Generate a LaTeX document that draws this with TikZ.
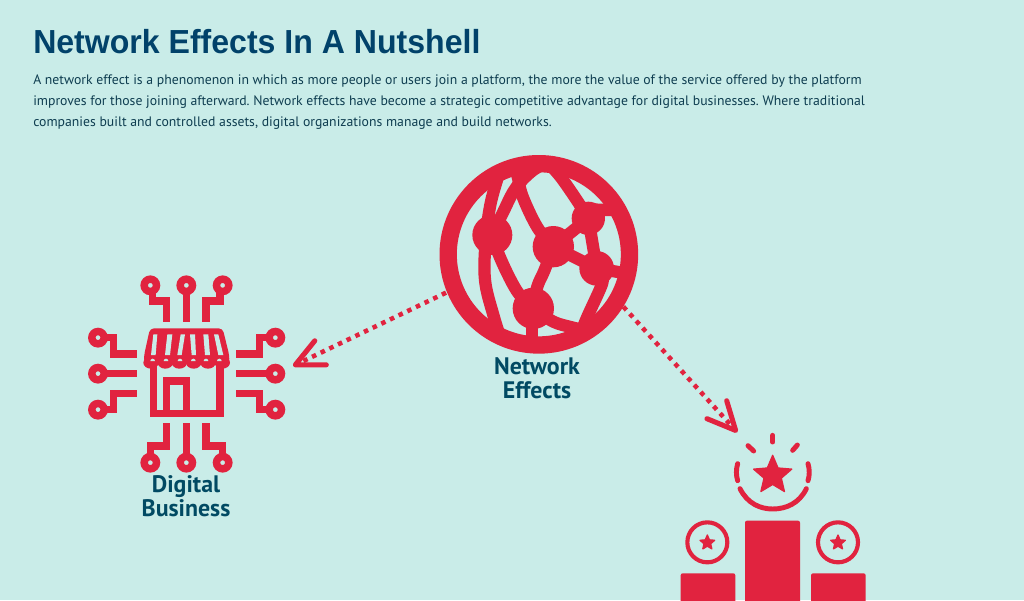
\documentclass[tikz,border=0pt]{standalone}
\usepackage{fontspec}
\setmainfont{PT Sans}
\newfontfamily\titlefont[FakeStretch=0.962]{Liberation Sans}
\usetikzlibrary{arrows.meta,shapes.geometric}
\definecolor{bgc}{HTML}{C9ECE8}
\definecolor{redc}{HTML}{E1233F}
\definecolor{titlec}{HTML}{01426A}
\definecolor{bodyc}{HTML}{0E3D50}
\definecolor{labelc}{HTML}{014A63}
\tikzset{
  titletext/.style={anchor=base west,inner sep=0pt,text=titlec,font=\titlefont\bfseries\fontsize{25}{30}\selectfont},
  bodytext/.style={anchor=base west,inner sep=0pt,text=bodyc,font=\frenchspacing\fontsize{10.3}{12}\selectfont},
  iconlabel/.style={align=center,inner sep=0pt,text=labelc,font=\bfseries\fontsize{17.9}{18}\selectfont},
  dotarrow/.style={draw=redc,line width=3.4pt,dash pattern=on 3.4pt off 3.8pt,
    -{Straight Barb[length=21pt,width=20pt,line width=3.8pt,round=false]}},
  cut/.style={fill=bgc,draw=none},
  trace/.style={draw=redc,line width=5.4pt},
  ringdot/.style={draw=redc,line width=5.6pt},
  dashring/.style={draw=redc,line width=3.7pt,line cap=round},
  bar/.style={fill=redc,rounded corners=1.5pt},
  prize/.style={star,star points=5,star point ratio=2.2,fill=redc,draw=redc,line join=round,line width=1pt,inner sep=0pt},
  netline/.style={draw=redc,line width=9.2pt},
}
\begin{document}
\begin{tikzpicture}[x=.75pt,y=-.75pt]
\useasboundingbox (0,0) rectangle (1024,600);
\fill[bgc] (0,0) rectangle (1024,600);
\node[titletext] (title) at (33,53) {Network Effects In A Nutshell};
\node[bodytext] (l1) at (33,84.5) {A network effect is a phenomenon in which as more people or users join a platform, the more the value of the service offered by the platform};
\node[bodytext] (l2) at (33,105.5) {improves for those joining afterward. Network effects have become a strategic competitive advantage for digital businesses. Where traditional};
\node[bodytext] (l3) at (33,126.5) {companies built and controlled assets, digital organizations manage and build networks.};

% ---- globe
\begin{scope}[shift={(420,140)},x=.25pt,y=-.25pt]
\begin{scope}
\clip (356.5,343) circle[radius=290];
\draw[netline] plot[smooth,tension=.6] coordinates {(245,80) (228,130) (210,200) (197,300) (195,420) (220,525) (250,620)};
\draw[netline] plot[smooth,tension=.6] coordinates {(380,70) (340,90) (290,140) (255,205) (222,285) (237,345) (290,452) (340,505)};
\draw[netline] plot[smooth,tension=.6] coordinates {(280,70) (293,110) (308,170) (352,262) (400,320)};
\draw[netline] plot[smooth,tension=.6] coordinates {(395,80) (425,115) (470,180) (505,235)};
\draw[netline] (400,320)--(505,235);
\draw[netline] (400,320)--(530,385);
\draw[netline] (505,235)--(530,385);
\draw[netline] (505,208)--(630,212);
\draw[netline] (530,385)--(630,402);
\draw[netline] plot[smooth,tension=.6] coordinates {(545,410) (545,435) (500,535) (470,610)};
\draw[netline] plot[smooth,tension=.6] coordinates {(400,320) (373,392) (352,440) (340,505)};
\draw[netline] plot[smooth,tension=.6] coordinates {(340,505) (400,545) (460,563) (530,580)};
\draw[netline] (336,505)--(336,620);
\end{scope}
\draw[redc,line width=13pt] (356.5,343) circle[radius=272];
\fill[redc] (217,285) circle[radius=60];
\fill[redc] (400,320) circle[radius=62];
\fill[redc] (505,235) circle[radius=50];
\fill[redc] (530,385) circle[radius=52];
\fill[redc] (340,505) circle[radius=62];
\coordinate (globeL) at (78,458);
\coordinate (globeR) at (610,500);
\end{scope}
\node[iconlabel] (nelabel) at (537,378) {Network\\Effects};

% ---- digital business
\begin{scope}[shift={(70,265)},x=.25pt,y=-.25pt]
\foreach \n/\px/\py in {a/241/61,b/349/61,c/458/61,d/84/218,e/84/326,f/84/434,g/616/218,h/616/326,i/616/434,j/241/593,k/349/593,l/458/593}
  \draw[ringdot] (\px,\py) circle[radius=18.5];
\draw[trace] (248,80)--(248,108)--(290,108)--(290,170);
\draw[trace] (349,85)--(349,170);
\draw[trace] (450,80)--(450,108)--(408,108)--(408,170);
\draw[trace] (108,218)--(131,218)--(131,267)--(202,267);
\draw[trace] (108,326)--(202,326);
\draw[trace] (108,434)--(131,434)--(131,385)--(202,385);
\draw[trace] (592,218)--(568,218)--(568,267)--(497,267);
\draw[trace] (592,326)--(497,326);
\draw[trace] (592,434)--(568,434)--(568,385)--(497,385);
\draw[trace] (241,569)--(241,543)--(290,543)--(290,474);
\draw[trace] (349,569)--(349,474);
\draw[trace] (458,569)--(458,543)--(408,543)--(408,474);
% shop body
\draw[trace] (250,300)--(250,445)--(450,445)--(450,300);
\draw[trace] (290,445)--(290,348)--(350,348)--(350,445);
% awning
\fill[redc,rounded corners=3pt] (240,190)--(458,190)--(478,272)--(478,293)--(222,293)--(222,272)--cycle;
\foreach \cx in {243,286,328,371,414,457}
  \fill[redc] (\cx,293) ellipse[x radius=23,y radius=18];
\foreach \a/\b/\c/\d in {250/262/243/257,292/307/285/300,332/345/322/335,360/375/365/378,400/415/405/420,432/445/445/460}
  \fill[cut] (\a,208)--(\b,208)--(\d,270)--(\c,270)--cycle;
\foreach \cx in {248,288,330,370,408,448}
  \fill[cut] (\cx-7,288) arc[start angle=180,end angle=360,radius=7] --cycle;
\end{scope}
\node[iconlabel] (dblabel) at (186,496) {Digital\\Business};

% ---- winners
\begin{scope}[shift={(660,400)},x=.25pt,y=-.25pt]
\coordinate (winTip) at (232,97);
\draw[dashring] (338,106)--(338,126);
\draw[dashring] (264,137)--(281,153);
\draw[dashring] (412,135)--(398,151);
\draw[dashring] (233,191) .. controls (228,208) and (228,226) .. (233,242);
\draw[dashring] (444,191) .. controls (449,208) and (449,226) .. (444,242);
\draw[dashring] (240,266) .. controls (262,310) and (300,327) .. (338,327) .. controls (378,327) and (418,310) .. (439,266);
\node[prize,minimum size=30pt] (bigstar) at (338,226) {};
\draw[redc,line width=3.1pt] (142,427) circle[radius=60];
\draw[redc,line width=3.1pt] (534,427) circle[radius=60];
\node[prize,minimum size=11.5pt] (lstar) at (142,428) {};
\node[prize,minimum size=11.5pt] (rstar) at (534,428) {};
\fill[bar] (255,362) rectangle (420,640);
\fill[bar] (62,520) rectangle (226,640);
\fill[bar] (453,520) rectangle (617,640);
\end{scope}

% ---- connectors
\coordinate (bizTip) at (293,366);
\draw[dotarrow] (globeL) -- (bizTip);
\draw[dotarrow] (globeR) -- (winTip);
\end{tikzpicture}
\end{document}
